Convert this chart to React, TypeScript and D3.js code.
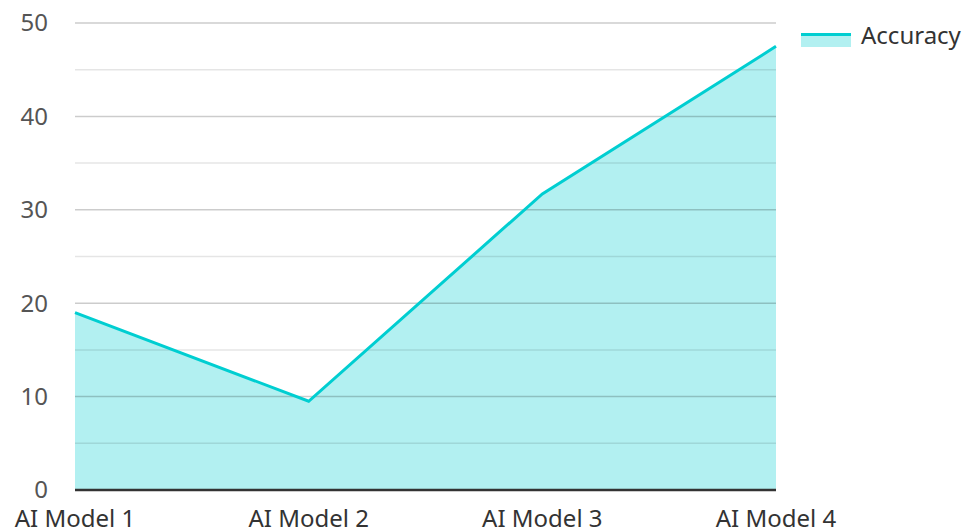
import React, { useEffect, useRef } from 'react';
import * as d3 from 'd3';

const categories = ['AI Model 1', 'AI Model 2', 'AI Model 3', 'AI Model 4'];
const accuracy = [19, 9.5, 31.7, 47.5];
const yTicks = [0, 10, 20, 30, 40, 50];
const yMinorTicks = [5, 15, 25, 35, 45];
const seriesName = 'Accuracy';

const LINE = '#00CED1';
const FONT = "'Noto Sans', 'Open Sans', sans-serif";

export default function App() {
  const svgRef = useRef<SVGSVGElement>(null);

  useEffect(() => {
    if (!svgRef.current) return;
    const width = 966;
    const height = 531;
    const margin = { top: 23, right: 190, bottom: 41, left: 75 };

    const svg = d3.select(svgRef.current);
    svg.selectAll('*').remove();

    const x = d3.scalePoint<string>()
      .domain(categories)
      .range([margin.left, width - margin.right]);

    const y = d3.scaleLinear()
      .domain([0, 50])
      .range([height - margin.bottom, margin.top]);

    const data = categories.map((c, i) => ({ c, v: accuracy[i] }));

    // area fill
    const area = d3.area<{ c: string; v: number }>()
      .x(d => x(d.c)!)
      .y0(y(0))
      .y1(d => y(d.v));

    svg.append('path')
      .datum(data)
      .attr('d', area)
      .attr('fill', LINE)
      .attr('fill-opacity', 0.3);

    // grid lines, drawn over the fill
    svg.append('g')
      .selectAll('line.minor')
      .data(yMinorTicks)
      .enter()
      .append('line')
      .attr('x1', margin.left)
      .attr('x2', width - margin.right)
      .attr('y1', d => y(d))
      .attr('y2', d => y(d))
      .attr('stroke', 'rgba(0,0,0,0.1)')
      .attr('stroke-width', 1.5);

    svg.append('g')
      .selectAll('line.major')
      .data(yTicks.filter(t => t > 0))
      .enter()
      .append('line')
      .attr('x1', margin.left)
      .attr('x2', width - margin.right)
      .attr('y1', d => y(d))
      .attr('y2', d => y(d))
      .attr('stroke', 'rgba(0,0,0,0.2)')
      .attr('stroke-width', 1.5);

    // line
    const line = d3.line<{ c: string; v: number }>()
      .x(d => x(d.c)!)
      .y(d => y(d.v));

    svg.append('path')
      .datum(data)
      .attr('d', line)
      .attr('fill', 'none')
      .attr('stroke', LINE)
      .attr('stroke-width', 3);

    // baseline
    svg.append('line')
      .attr('x1', margin.left)
      .attr('x2', width - margin.right)
      .attr('y1', y(0))
      .attr('y2', y(0))
      .attr('stroke', '#333')
      .attr('stroke-width', 2.5);

    // y labels
    svg.append('g')
      .selectAll('text')
      .data(yTicks)
      .enter()
      .append('text')
      .attr('x', 48)
      .attr('y', d => y(d))
      .attr('dy', '0.35em')
      .attr('text-anchor', 'end')
      .style('font-family', FONT)
      .style('font-size', '24px')
      .style('fill', '#555')
      .text(d => d);

    // x labels
    svg.append('g')
      .selectAll('text')
      .data(categories)
      .enter()
      .append('text')
      .attr('x', d => x(d)!)
      .attr('y', 527)
      .attr('text-anchor', 'middle')
      .style('font-family', FONT)
      .style('font-size', '24px')
      .style('fill', '#333')
      .text(d => d);

    // legend
    const lg = svg.append('g').attr('transform', 'translate(801,33)');
    lg.append('rect')
      .attr('x', 0).attr('y', 0).attr('width', 50).attr('height', 14)
      .attr('fill', LINE).attr('fill-opacity', 0.3);
    lg.append('line')
      .attr('x1', 0).attr('x2', 50).attr('y1', 1.5).attr('y2', 1.5)
      .attr('stroke', LINE).attr('stroke-width', 3);
    lg.append('text')
      .attr('x', 60).attr('y', 3)
      .attr('dy', '0.35em')
      .style('font-family', FONT)
      .style('font-size', '24px')
      .style('fill', '#333')
      .text(seriesName);
  }, []);

  return (
    <svg
      ref={svgRef}
      width={966}
      height={531}
      style={{ position: 'absolute', left: 0, top: 0, background: '#fff' }}
    />
  );
}
